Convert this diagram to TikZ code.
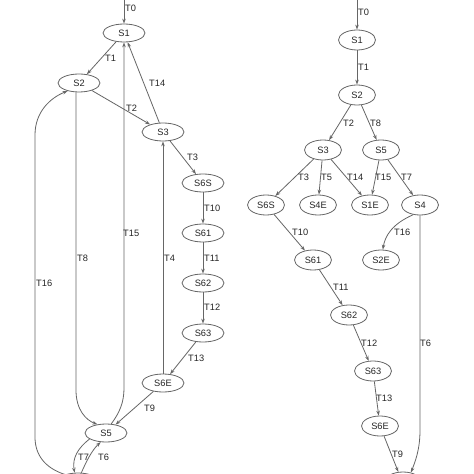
\documentclass[tikz,border=0pt]{standalone}
\usepackage{fontspec}
\setmainfont{Liberation Sans}
\usetikzlibrary{shapes.geometric,arrows.meta}
\begin{document}
\begin{tikzpicture}[x=1bp,y=-1bp,
 stl/.style={ellipse,draw=black!60,line width=0.8bp,minimum width=42bp,minimum height=18bp,inner sep=0pt,font=\fontsize{9.3}{10}\selectfont,text=black!85},
 str/.style={stl,minimum width=37bp,minimum height=20bp},
 lbl/.style={font=\fontsize{9.3}{10}\selectfont,text=black!85,inner sep=0pt,anchor=west},
 tr/.style={draw=black!60,line width=0.8bp,-{Stealth[length=5bp,width=3.5bp]}}]
\useasboundingbox (0,0) rectangle (474,474);
\clip (0,0) rectangle (474,474);
\fill[white] (0,0) rectangle (474,474);
% ---------- left graph ----------
\node[stl] (a1) at (124,33) {S1};
\node[stl] (a2) at (79,83) {S2};
\node[stl] (a3) at (163,132) {S3};
\node[stl] (a6s) at (203,183) {S6S};
\node[stl] (a61) at (203,233) {S61};
\node[stl] (a62) at (203,283) {S62};
\node[stl] (a63) at (203,333) {S63};
\node[stl] (a6e) at (163,383) {S6E};
\node[stl] (a5) at (106,433) {S5};
\node[stl] (a4) at (78,482) {};
\coordinate (a0) at (124,-2);
\coordinate (c8) at (76,390);
\coordinate (c15) at (124,388);
\coordinate (c16a) at (35,437);
\coordinate (c16b) at (35,135);
\draw[tr] (a0) -- (a1);
\draw[tr] (a1) -- (a2);
\draw[tr] (a2) -- (a3);
\draw[tr] (a3) -- (a1);
\draw[tr] (a3) -- (a6s);
\draw[tr] (a6s) -- (a61);
\draw[tr] (a61) -- (a62);
\draw[tr] (a62) -- (a63);
\draw[tr] (a63) -- (a6e);
\draw[tr] (a6e.north) -- (a3.south);
\draw[tr] (a6e) -- (a5);
\draw[tr] (c8 |- a2.south) -- (c8) .. controls (76,410) and (86,420) .. (a5.135);
\draw[tr] (a5.60) .. controls (120,412) and (124,402) .. (c15) -- (a1.south);
\draw[tr] (a4.150) .. controls (45,468) and (35,455) .. (c16a) -- (c16b) .. controls (35,112) and (50,98) .. (a2.215);
\draw[tr] (a5.200) .. controls (78,448) and (72,458) .. (a4.110);
\draw[tr] (a4.70) .. controls (86,462) and (92,450) .. (a5.240);
\node[lbl] (lT0) at (125,8) {T0};
\node[lbl] (lT1) at (105,58) {T1};
\node[lbl] (lT14) at (149,83) {T14};
\node[lbl] (lT2) at (126,108) {T2};
\node[lbl] (lT3) at (187,157) {T3};
\node[lbl] (lT10) at (204,208) {T10};
\node[lbl] (lT15) at (123,233) {T15};
\node[lbl] (lT8) at (77,258) {T8};
\node[lbl] (lT4) at (164,258) {T4};
\node[lbl] (lT11) at (204,258) {T11};
\node[lbl] (lT16) at (36,283) {T16};
\node[lbl] (lT12) at (204,307) {T12};
\node[lbl] (lT13) at (188,358) {T13};
\node[lbl] (lT9) at (144,408) {T9};
\node[lbl] (lT7) at (78,457) {T7};
\node[lbl] (lT6) at (98,457) {T6};
% ---------- right graph ----------
\node[str] (b1) at (357,40) {S1};
\node[str] (b2) at (357,95) {S2};
\node[str] (b3) at (323,150) {S3};
\node[str] (b5) at (381,150) {S5};
\node[str] (b6s) at (266,205) {S6S};
\node[str] (b4e) at (318,205) {S4E};
\node[str] (b1e) at (370,205) {S1E};
\node[str] (b4) at (420,205) {S4};
\node[str] (b2e) at (381,260) {S2E};
\node[str] (b61) at (313,260) {S61};
\node[str] (b62) at (349,315) {S62};
\node[str] (b63) at (373,371) {S63};
\node[str] (b6e) at (380,426) {S6E};
\node[str] (bx) at (403,482) {};
\coordinate (b0) at (357,-2);
\coordinate (d6) at (420,430);
\draw[tr] (b0) -- (b1);
\draw[tr] (b1) -- (b2);
\draw[tr] (b2) -- (b3);
\draw[tr] (b2) -- (b5);
\draw[tr] (b3) -- (b6s);
\draw[tr] (b3) -- (b4e);
\draw[tr] (b3) -- (b1e);
\draw[tr] (b5) -- (b1e);
\draw[tr] (b5) -- (b4);
\draw[tr] (b4.235) .. controls (392,224) and (385,236) .. (b2e.80);
\draw[tr] (b6s) -- (b61);
\draw[tr] (b61) -- (b62);
\draw[tr] (b62) -- (b63);
\draw[tr] (b63) -- (b6e);
\draw[tr] (b6e) -- (bx.115);
\draw[tr] (b4.south) -- (d6) .. controls (420,450) and (415,462) .. (bx.50);
\node[lbl] (rT0) at (358,12) {T0};
\node[lbl] (rT1) at (358,67) {T1};
\node[lbl] (rT2) at (343,123) {T2};
\node[lbl] (rT8) at (370,123) {T8};
\node[lbl] (rT3) at (298,177) {T3};
\node[lbl] (rT5) at (321,177) {T5};
\node[lbl] (rT14) at (347,177) {T14};
\node[lbl] (rT15) at (375,177) {T15};
\node[lbl] (rT7) at (401,177) {T7};
\node[lbl] (rT10) at (292,232) {T10};
\node[lbl] (rT16) at (394,232) {T16};
\node[lbl] (rT11) at (333,287) {T11};
\node[lbl] (rT12) at (361,343) {T12};
\node[lbl] (rT6) at (420,343) {T6};
\node[lbl] (rT13) at (376,398) {T13};
\node[lbl] (rT9) at (392,454) {T9};
\end{tikzpicture}
\end{document}
